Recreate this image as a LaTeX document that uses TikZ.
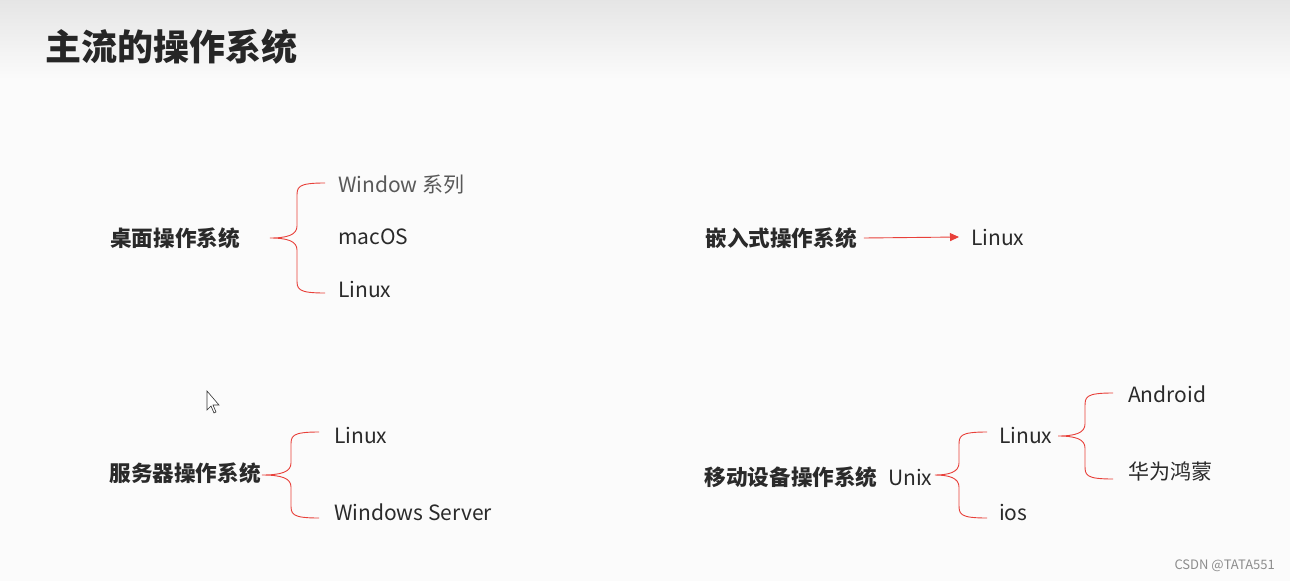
\documentclass[tikz,border=0pt]{standalone}
\usepackage{fontspec}
\setmainfont{Noto Sans CJK SC}
\usetikzlibrary{arrows.meta}
\definecolor{br}{HTML}{E8403A}
\definecolor{tx}{HTML}{2A2A2A}
\tikzset{
  head/.style={font=\fontsize{21.6}{23}\selectfont\bfseries, text=tx, inner sep=0pt},
  item/.style={font=\fontsize{21}{23}\selectfont, text=tx, anchor=west, inner sep=0pt},
  brace/.style={draw=br, line width=0.9pt}
}
\newcommand{\mybrace}[4]{%
  \draw[brace] (#3+28,#2-#4) .. controls (#3,#2-#4) and (#3,#2-#4+4) .. (#3,#2-#4+14) -- (#3,#2-12) .. controls (#3,#2-3) and (#3-10,#2) .. (#1,#2)
   .. controls (#3-10,#2) and (#3,#2+3) .. (#3,#2+12) -- (#3,#2+#4-14) .. controls (#3,#2+#4-4) and (#3,#2+#4) .. (#3+28,#2+#4);}
\begin{document}
\begin{tikzpicture}[x=1pt,y=-1pt]
\useasboundingbox (0,0) rectangle (1290,581);
\fill[white!97!gray] (0,0) rectangle (1290,581);
\shade[top color=black!10, bottom color=white!97!gray] (0,0) rectangle (1290,80);
\node[font=\fontsize{36}{40}\selectfont\bfseries, text=black!85, anchor=west, inner sep=0pt] (title) at (45,47) {主流的操作系统};

% desktop
\node[head] (desk) at (175,238) {桌面操作系统};
\mybrace{270}{238}{297}{55}
\node[item, text=black!65] (w) at (338,185) {Window 系列};
\node[item] (mac) at (338,237) {macOS};
\node[item] (lx1) at (338,289) {Linux};

% embedded
\node[head] (emb) at (781,238) {嵌入式操作系统};
\node[item] (lx2) at (971,237) {Linux};
\draw[br, line width=0.9pt, -{Triangle[length=9pt,width=8pt]}] (emb.east)+(7,0) -- ([xshift=-12pt]lx2.west);

% server
\node[head] (srv) at (185,473) {服务器操作系统};
\mybrace{262}{475}{291}{43}
\node[item] (lx3) at (334,435) {Linux};
\node[item] (ws) at (334,512) {Windows Server};

% mobile
\node[head] (mob) at (791,477) {移动设备操作系统};
\node[item] (unix) at (888,477) {Unix};
\mybrace{935}{475}{959}{43}
\node[item] (lx4) at (999,435) {Linux};
\node[item] (ios) at (999,512) {ios};
\mybrace{1058}{436}{1085}{43}
\node[item] (and) at (1128,394) {Android};
\node[item] (hm) at (1128,471) {华为鸿蒙};

% cursor
\draw[black!80, fill=white, line width=0.6pt] (207,391) -- (207,410) -- (211,406) -- (214,413) -- (216,412) -- (213,405) -- (219,405) -- cycle;

\node[font=\fontsize{13}{14}\selectfont, text=black!45, anchor=east, inner sep=0pt] (wm) at (1275,566) {CSDN @TATA551};
\end{tikzpicture}
\end{document}
